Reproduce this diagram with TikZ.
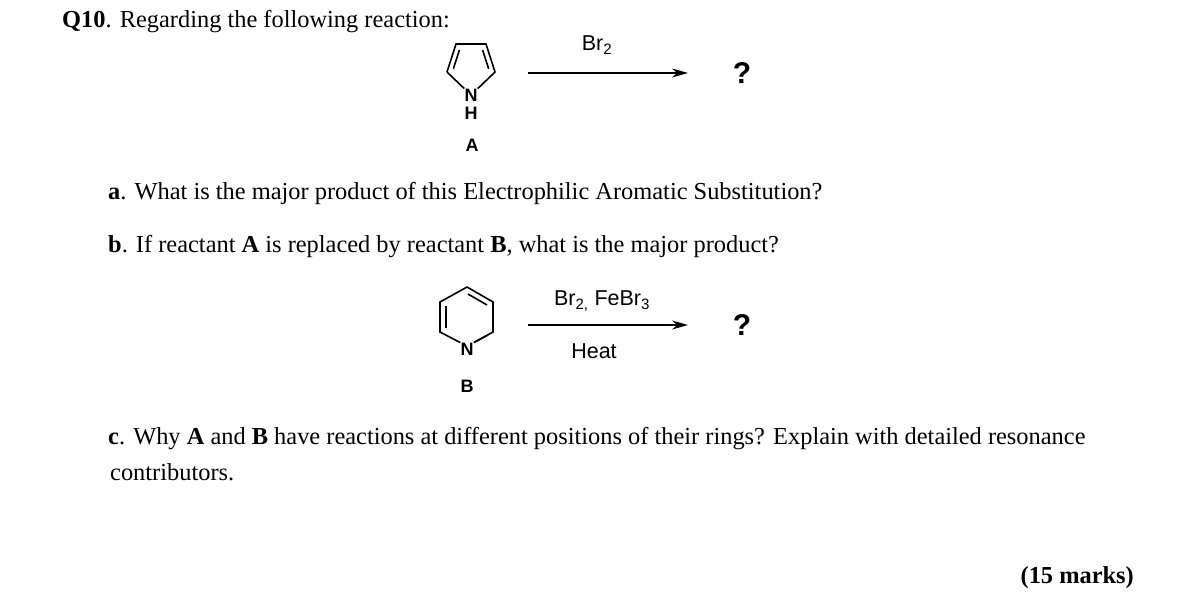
\documentclass[tikz,border=0pt]{standalone}
\usepackage{fontspec}
\usetikzlibrary{calc,arrows.meta}
\setmainfont{Liberation Serif}
\setsansfont{Liberation Sans}
\begin{document}
\begin{tikzpicture}[x=1pt,y=-1pt,
  txt/.style={anchor=west,inner sep=0pt,font=\fontsize{24.4}{28}\selectfont},
  lab/.style={inner sep=0pt,font=\sffamily\fontsize{21.5}{24}\selectfont},
  atom/.style={inner sep=0pt,font=\sffamily\bfseries\fontsize{18}{20}\selectfont},
  qm/.style={inner sep=0pt,font=\sffamily\bfseries\fontsize{30}{32}\selectfont},
  bond/.style={line width=1.6pt},
  rxn/.style={line width=1.3pt,-{Stealth[length=16pt,width=9pt]}}]
\useasboundingbox (0,0) rectangle (1179,607);
\node[txt] (q) at (62,22) {\textbf{Q10}. Regarding the following reaction:};
% pyrrole
\coordinate (p1) at (456,44); \coordinate (p2) at (486,44);
\coordinate (p3) at (495,72); \coordinate (p5) at (447,72);
\node[atom] (N1) at (471,95) {N};
\node[atom] (H1) at (471,113) {H};
\draw[bond] (p5) -- (p1) -- (p2) -- (p3) -- (N1.north east);
\draw[bond] (N1.north west) -- (p5);
\draw[bond] ($(p1)!0.18!(p5)+(5,1)$) -- ($(p1)!0.85!(p5)+(5,1)$);
\draw[bond] ($(p2)!0.18!(p3)+(-5,1)$) -- ($(p2)!0.85!(p3)+(-5,1)$);
\node[atom] (A) at (472,145) {A};
\node[qm] (q1) at (742,73) {?};
\coordinate (a1s) at (528,73); \coordinate (a1e) at (688,73);
\draw[rxn] (a1s) -- (a1e);
\node[lab] (br) at (597,45) {Br\textsubscript{2}};
% questions
\node[txt] (qa) at (108,194) {\textbf{a}. What is the major product of this Electrophilic Aromatic Substitution?};
\node[txt] (qb) at (108,247) {\textbf{b}. If reactant \textbf{A} is replaced by reactant \textbf{B}, what is the major product?};
% pyridine
\coordinate (r1) at (467,287); \coordinate (r2) at (493,302); \coordinate (r3) at (493,332);
\node[atom] (N2) at (467,349) {N};
\coordinate (r5) at (440,332); \coordinate (r6) at (440,302);
\draw[bond] (N2.north east) -- (r3) -- (r2) -- (r1) -- (r6) -- (r5) -- (N2.north west);
\draw[bond] (446,306) -- (446,328);
\draw[bond] (468,294) -- (487,305);
\draw[bond] (475,342) -- (488,335);
\node[atom] (B) at (467,386) {B};
\coordinate (a2s) at (528,325); \coordinate (a2e) at (688,325);
\draw[rxn] (a2s) -- (a2e);
\node[lab] (rg) at (602,301) {Br\textsubscript{2,} FeBr\textsubscript{3}};
\node[lab] (ht) at (594,351) {Heat};
\node[qm] (q2) at (742,325) {?};
\node[txt] (qc) at (108,439) {\textbf{c}. Why \textbf{A} and \textbf{B} have reactions at different positions of their rings? Explain with detailed resonance};
\node[txt] (qc2) at (110,472) {contributors.};
\node[txt,anchor=east] (mk) at (1134,578) {\textbf{(15 marks)}};
\end{tikzpicture}
\end{document}
